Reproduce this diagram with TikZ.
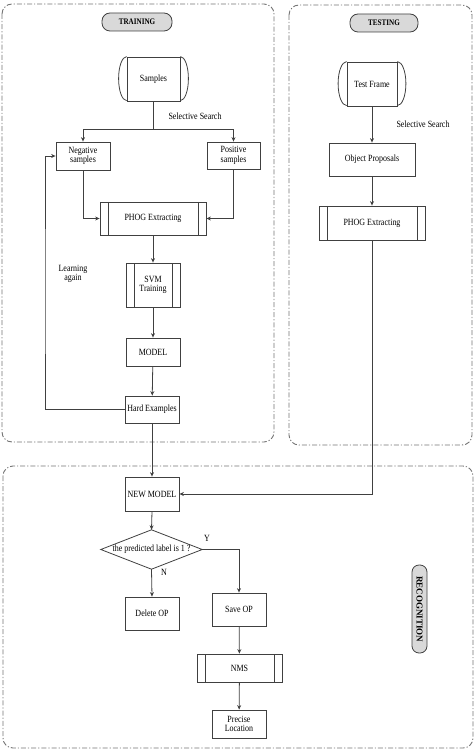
\documentclass[tikz,border=0pt]{standalone}
\usepackage{fontspec}
\setmainfont{Liberation Serif}
\newfontfamily\narrowserif{Liberation Serif}[FakeStretch=0.84]
\newcommand\dtxt{\narrowserif\fontsize{9.5}{10.5}\selectfont}
\newcommand\dlbl{\narrowserif\bfseries\fontsize{8.5}{9.5}\selectfont}
\usetikzlibrary{arrows.meta}
\begin{document}
\begin{tikzpicture}[x=1pt,y=-1pt,
  ln/.style={draw=black!75, line width=0.8pt},
  arr/.style={ln, -{Stealth[length=4.5pt,width=4pt]}},
  box/.style={rectangle, draw=black!75, line width=0.8pt, fill=white, align=center, inner sep=1pt, font=\dtxt},
  predef/.style={box, path picture={
      \draw[black!75, line width=0.8pt] ([xshift=8pt]path picture bounding box.north west) -- ([xshift=8pt]path picture bounding box.south west);
      \draw[black!75, line width=0.8pt] ([xshift=-8pt]path picture bounding box.north east) -- ([xshift=-8pt]path picture bounding box.south east);}},
  pill/.style={rectangle, draw=black!75, line width=0.8pt, fill=black!15, rounded corners=8pt, font=\dlbl, inner sep=1pt},
  cont/.style={draw=black!55, line width=0.9pt, dash pattern=on 5pt off 2pt on 1.2pt off 2pt, rounded corners=10pt},
  plain/.style={font=\dtxt, align=center, inner sep=1pt}
]
\useasboundingbox (0,0) rectangle (474,751);

% containers
\draw[cont] (2,4) rectangle (274,442);
\draw[cont] (289,5) rectangle (472,445);
\draw[cont] (3,466) rectangle (473,748);

% section labels
\node[pill, minimum width=70pt, minimum height=18pt] (trainlbl) at (137,22) {TRAINING};
\node[pill, minimum width=68pt, minimum height=18pt] (testlbl) at (384,23) {TESTING};
\node[pill, rotate=-90, minimum width=88pt, minimum height=15pt, rounded corners=7pt, font=\bfseries\fontsize{9}{10}\selectfont] (reclbl) at (419.5,609) {RECOGNITION};

% training
\node[box, minimum width=53pt, minimum height=44pt] (samples) at (153.5,79) {Samples};
\draw[ln] (samples.north west) arc[start angle=90, end angle=270, x radius=8pt, y radius=22pt];
\draw[ln] (samples.north east) arc[start angle=90, end angle=-90, x radius=8pt, y radius=22pt];

\node[plain] (ss1) at (195,116) {Selective Search};
\coordinate (split) at (153.5,129);

\node[box, minimum width=54pt, minimum height=28pt] (neg) at (83,156) {Negative\\[-1pt]samples};
\node[box, minimum width=53pt, minimum height=27pt] (pos) at (233.5,155.5) {Positive\\[-1pt]samples};
\node[predef, minimum width=106pt, minimum height=33pt] (phog1) at (153,218.5) {PHOG Extracting};
\node[predef, minimum width=54pt, minimum height=44pt] (svm) at (153,285) {SVM\\[-1pt]Training};
\node[box, minimum width=54pt, minimum height=28pt] (model) at (153,352) {MODEL};
\node[box, minimum width=54pt, minimum height=27pt] (hard) at (152,409.5) {Hard Examples};
\node[plain] (learn) at (73,274) {Learning\\[-1pt]again};
\coordinate (fb) at (45,300);

% testing
\node[box, minimum width=50pt, minimum height=44pt] (test) at (372,84) {Test Frame};
\draw[ln] (test.north west) arc[start angle=90, end angle=270, x radius=8.5pt, y radius=22pt];
\draw[ln] (test.north east) arc[start angle=90, end angle=-90, x radius=8.5pt, y radius=22pt];
\node[plain] (ss2) at (423,124) {Selective Search};
\node[box, minimum width=86pt, minimum height=33pt] (obj) at (372,159.5) {Object Proposals};
\node[predef, minimum width=106pt, minimum height=34pt] (phog2) at (372,223) {PHOG Extracting};

% recognition
\node[box, minimum width=54pt, minimum height=34pt] (newm) at (152,494) {NEW MODEL};
\node[plain, minimum width=101pt, minimum height=39pt] (dia) at (151.5,549.5) {the predicted label is 1 ?};
\draw[ln] (dia.west) -- (dia.north) -- (dia.east) -- (dia.south) -- cycle;
\node[plain] (ylbl) at (207,538) {Y};
\node[plain] (nlbl) at (164,572) {N};
\node[box, minimum width=54pt, minimum height=33pt] (del) at (152,613.5) {Delete OP};
\node[box, minimum width=54pt, minimum height=33pt] (save) at (239,609.5) {Save OP};
\node[predef, minimum width=85pt, minimum height=28pt] (nms) at (239.5,668) {NMS};
\node[box, minimum width=54pt, minimum height=28pt] (prec) at (239,724) {Precise\\[-1pt]Location};

% connectors training
\draw[ln] (samples.south) -- (split);
\draw[arr] (split) -| (neg.north);
\draw[arr] (split) -| (pos.north);
\draw[arr] (neg.south) |- (phog1.west);
\draw[arr] (pos.south) |- (phog1.east);
\draw[arr] (phog1) -- (svm);
\draw[arr] (svm) -- (model);
\draw[arr] (model) -- (hard);
\draw[arr] (hard.west) -| (fb) |- (neg.west);
\draw[arr] (hard.south) -- (newm.north);

% connectors testing
\draw[arr] (test) -- (obj);
\draw[arr] (obj) -- (phog2);
\draw[arr] (phog2.south) |- (newm.east);

% connectors recognition
\draw[arr] (newm.south) -- (dia.north);
\draw[arr] (dia.south) -- (del.north);
\draw[arr] (dia.east) -| (save.north);
\draw[arr] (save) -- (nms);
\draw[arr] (nms) -- (prec);
\end{tikzpicture}
\end{document}
